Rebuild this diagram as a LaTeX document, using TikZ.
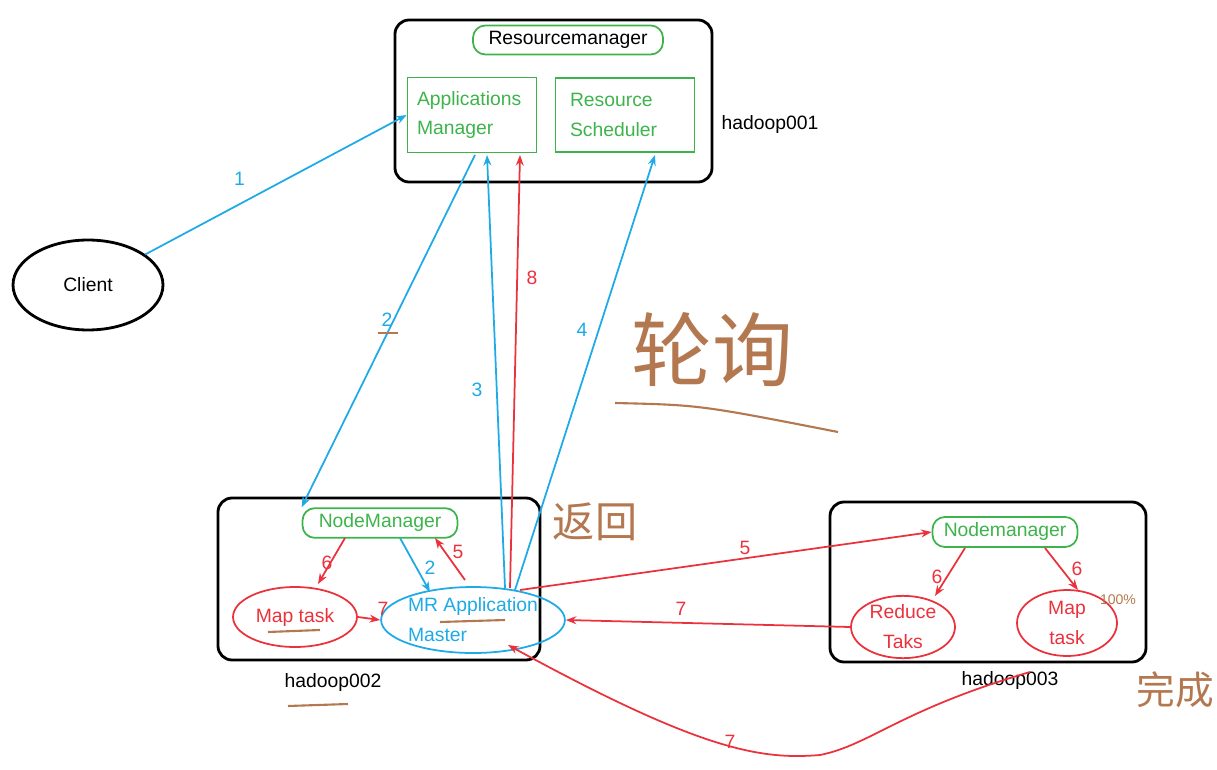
\documentclass[tikz,border=0pt]{standalone}
\usepackage{fontspec}
\setmainfont{Liberation Sans}
\newfontfamily\cjk{Noto Sans CJK SC}
\usetikzlibrary{shapes.geometric,arrows.meta}
\definecolor{gr}{RGB}{60,180,75}
\definecolor{bl}{RGB}{30,170,230}
\definecolor{rd}{RGB}{235,50,60}
\definecolor{br}{RGB}{180,120,80}
\begin{document}
\begin{tikzpicture}[x=0.02cm,y=-0.02cm,font=\fontsize{11}{14}\selectfont,
 host/.style={draw,line width=1.6pt,rounded corners=8pt},
 gbox/.style={draw=gr,line width=1pt,text=gr,align=left,inner sep=4pt,text width=2.2cm},
 gpill/.style={draw=gr,line width=1pt,rounded corners=7pt,minimum height=0.55cm},
 rell/.style={draw=rd,ellipse,line width=1pt,text=rd,align=center,inner sep=0pt},
 ba/.style={draw=bl,line width=1pt,-{Stealth[length=6pt]}},
 ra/.style={draw=rd,line width=1pt,-{Stealth[length=6pt]}},
 bt/.style={text=bl},rt/.style={text=rd}]
\useasboundingbox (0,0) rectangle (1217,770);
% hosts
\draw[host] (395,20) rectangle (712,182);
\draw[host] (218,498) rectangle (540,660);
\draw[host] (830,502) rectangle (1146,662);
\node at (770,125) {hadoop001};
\node at (333,682) {hadoop002};
\node at (1010,680) {hadoop003};
% nodes
\node[gpill,minimum width=3.8cm] (rm) at (568,40) {Resourcemanager};
\node[gbox,minimum width=2.58cm,minimum height=1.5cm] (am) at (472,115) {Applications\\[3pt]Manager};
\node[gbox,minimum width=2.78cm,minimum height=1.48cm] (rs) at (625,115) {Resource\\[3pt]Scheduler};
\node[draw,ellipse,line width=1.6pt,minimum width=3cm,minimum height=1.8cm] (cl) at (88,285) {Client};
\node[gpill,minimum width=3.1cm,text=gr] (nm2) at (380,523) {NodeManager};
\node[rell,minimum width=2.48cm,minimum height=1.2cm] (mt2) at (295,617) {Map task};
\node[draw=bl,ellipse,line width=1pt,text=bl,align=left,inner sep=0pt,minimum width=2.5cm,minimum height=1.32cm] (mr) at (473,620) {MR Application\\[3pt]Master};
\node[gpill,minimum width=2.9cm,minimum height=0.6cm,text=gr] (nm3) at (1005,532) {Nodemanager};
\node[rell,minimum width=2.08cm,minimum height=1.2cm] (rt3) at (903,627) {Reduce\\[3pt]Taks};
\node[rell,minimum width=2cm,minimum height=1.32cm] (mt3) at (1067,623) {Map\\[3pt]task};
% connectors
\draw[ba] (cl) -- (am.west) node[bt,pos=0.42,above left=2pt] {1};
\draw[ba] (475,155) -- (nm2.north west);
\node[bt] at (387,320) {2};
\draw[ba] (505,588) -- (487,155);
\node[bt] at (477,390) {3};
\draw[ra] (510,588) -- (520,155);
\node[rt] at (532,278) {8};
\draw[ba] (515,590) -- (655,155);
\node[bt] at (582,330) {4};
\draw[ba] (400,538) -- (430,592);
\node[bt] at (430,568) {2};
\draw[ra] (465,580) -- (435,538);
\node[rt] at (458,552) {5};
\draw[ra] (345,538) -- (318,584);
\node[rt] at (327,563) {6};
\draw[ra] (mt2.east) -- (mr.west);
\node[rt] at (383,609) {7};
\draw[ra] (520,590) -- (nm3.west);
\node[rt] at (745,548) {5};
\draw[ra] (rt3.west) -- (mr.east);
\node[rt] at (681,609) {7};
\draw[ra] (965,548) -- (935,596);
\node[rt] at (937,577) {6};
\draw[ra] (1045,548) -- (1078,590);
\node[rt] at (1077,569) {6};
\draw[ra] (1030,672) .. controls (900,710) and (870,745) .. (820,755) .. controls (760,760) and (700,750) .. (508,645);
\node[rt] at (730,742) {7};
% handwritten notes
\node[text=br,font=\cjk\fontsize{46}{46}\selectfont] at (712,350) {轮询};
\draw[br,line width=1.2pt] (615,403) .. controls (700,405) .. (838,432);
\node[text=br,font=\cjk\fontsize{24}{24}\selectfont] at (595,522) {返回};
\node[text=br,font=\fontsize{8}{8}\selectfont] at (1118,600) {100\%};
\node[text=br,font=\cjk\fontsize{22}{22}\selectfont] at (1175,690) {完成};
\draw[br,line width=1.2pt] (378,333) -- (398,333);
\draw[br,line width=1.2pt] (268,632) -- (320,630);
\draw[br,line width=1.2pt] (440,622) -- (505,620);
\draw[br,line width=1.2pt] (288,706) -- (348,704);
\end{tikzpicture}
\end{document}
